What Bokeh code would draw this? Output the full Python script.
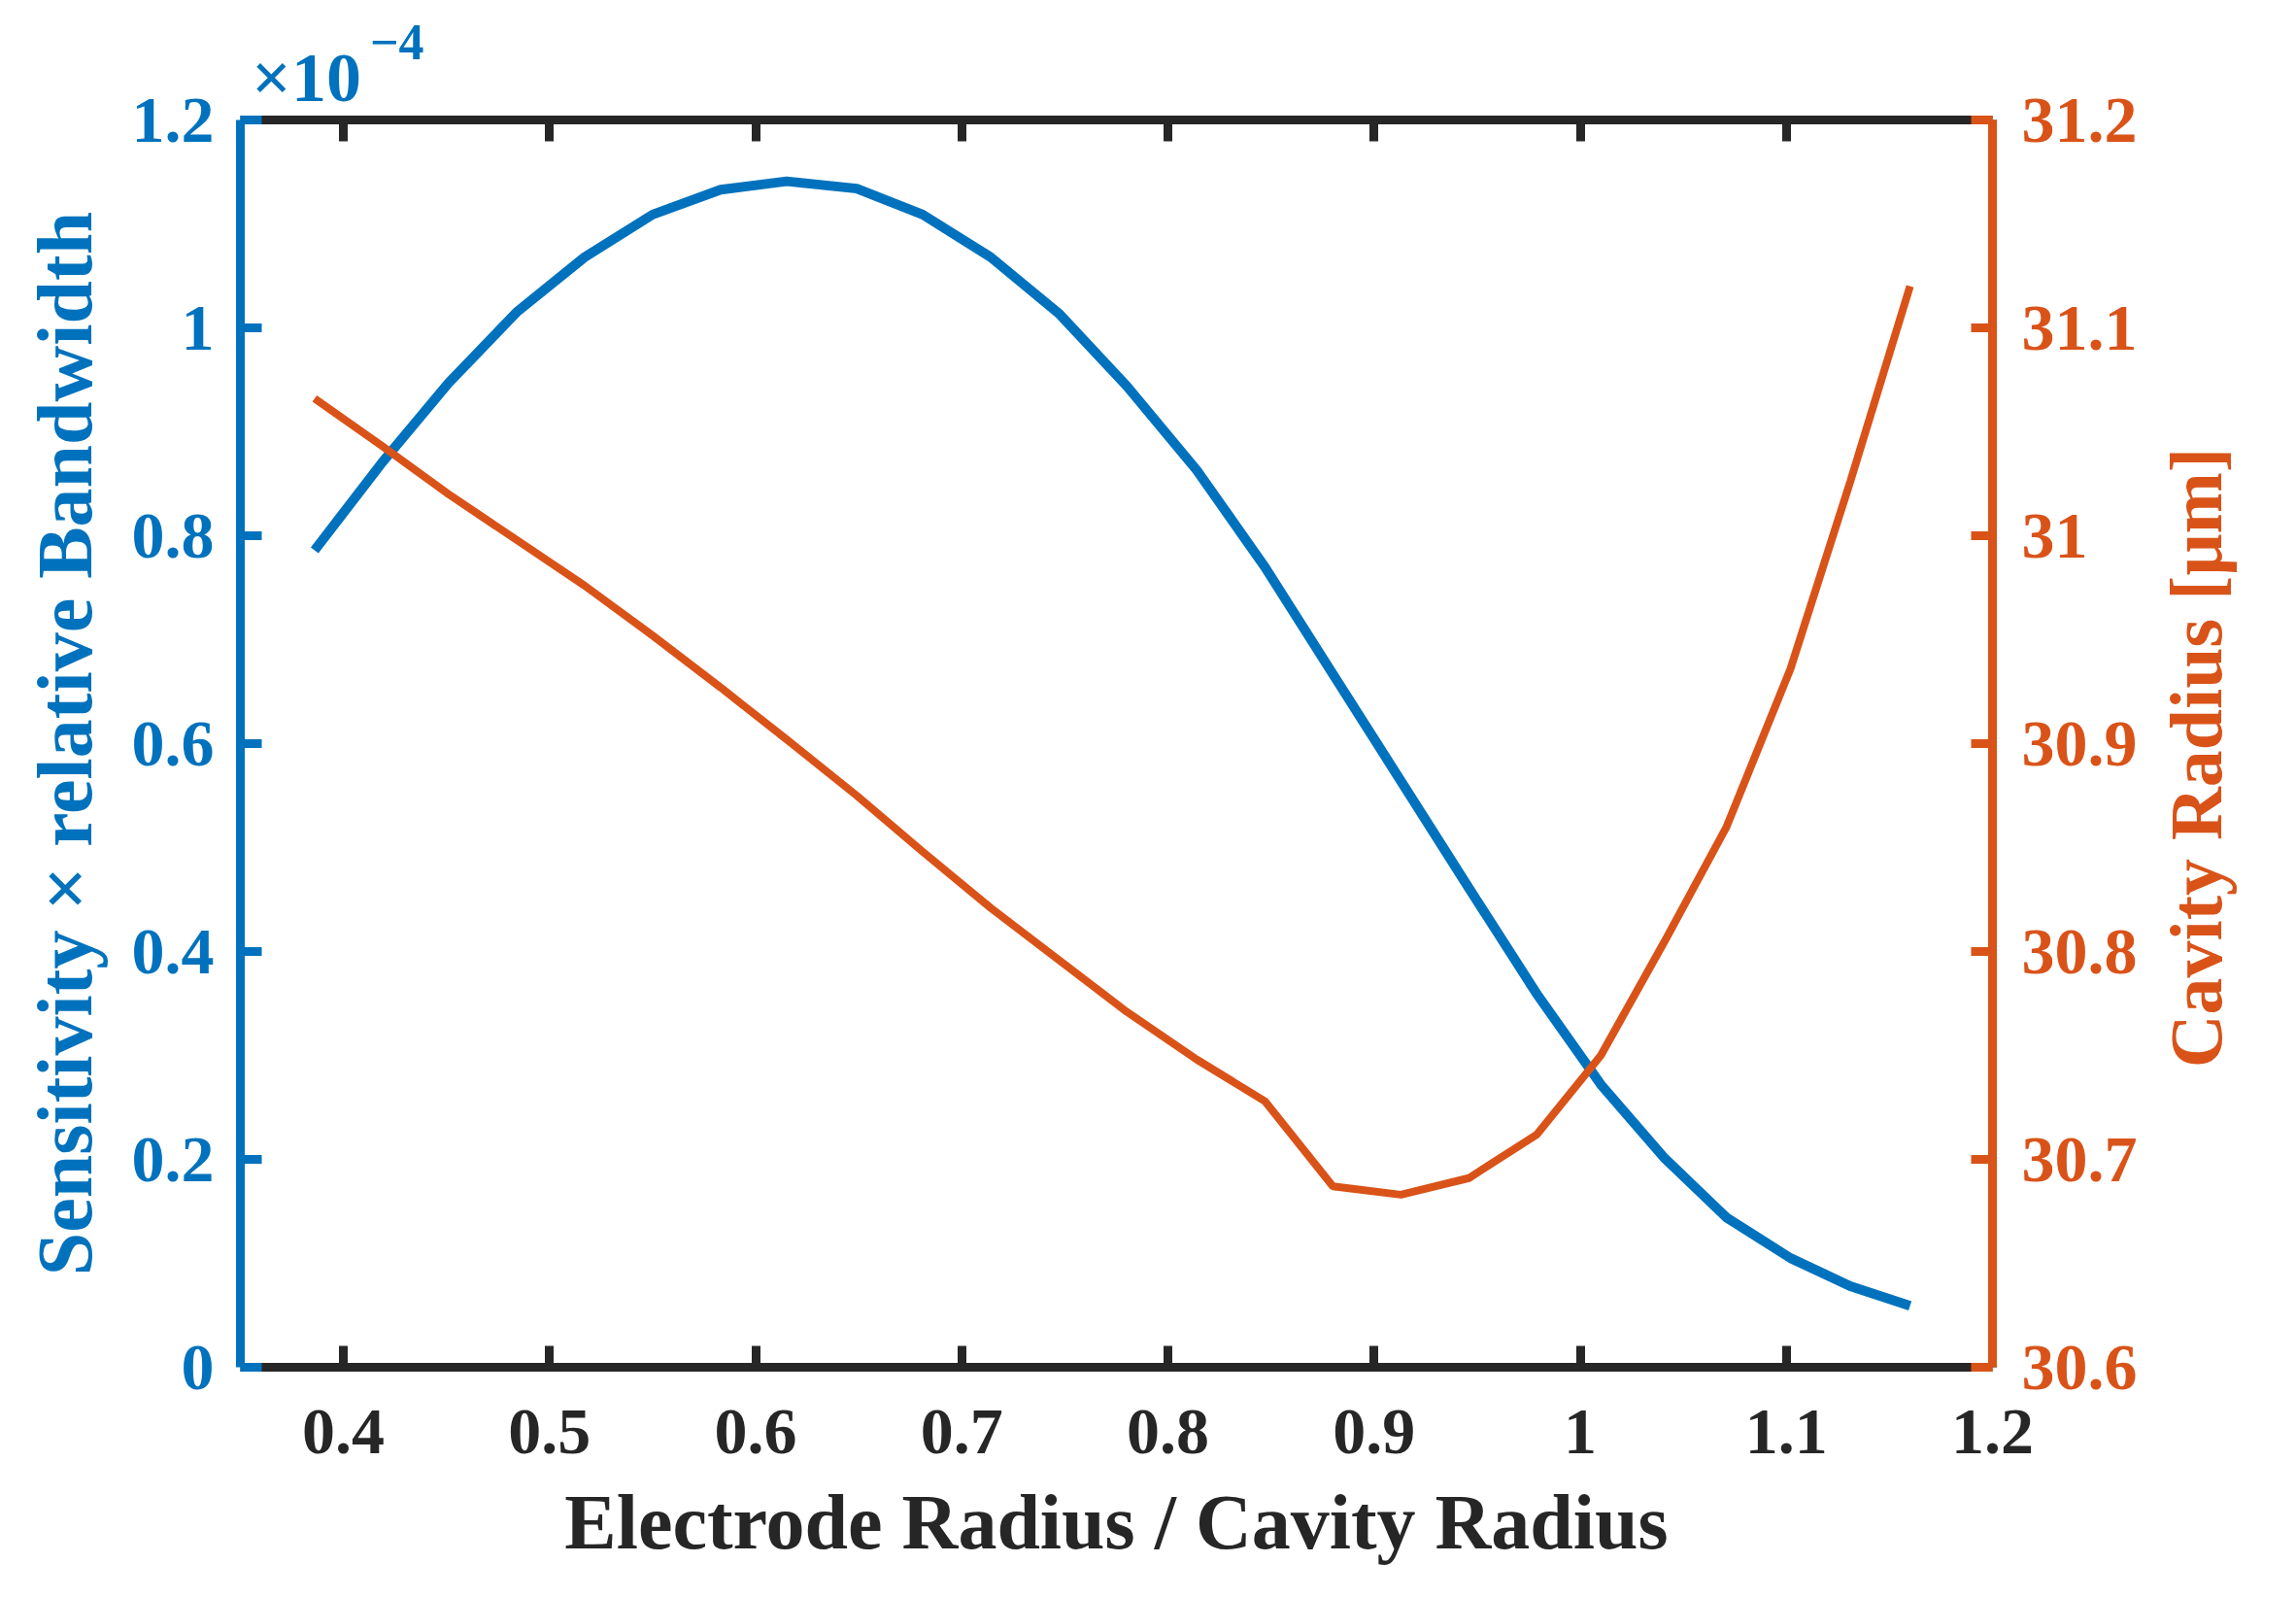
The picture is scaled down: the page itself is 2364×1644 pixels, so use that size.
import math
from bokeh.plotting import figure
from bokeh.models import (Range1d, LinearAxis, FixedTicker, CustomJSTickFormatter,
                          CustomLabelingPolicy)
from bokeh.embed import file_html
from bokeh.resources import INLINE

# ---- data ----
ratio = [0.386, 0.419, 0.451, 0.484, 0.517, 0.550, 0.583, 0.615, 0.649, 0.681,
         0.714, 0.747, 0.780, 0.814, 0.847, 0.880, 0.913, 0.946, 0.979, 1.010,
         1.041, 1.071, 1.102, 1.131, 1.160]
sens_bw = [0.786, 0.871, 0.947, 1.015, 1.068, 1.109, 1.133, 1.141, 1.134, 1.109,
           1.068, 1.014, 0.944, 0.863, 0.770, 0.667, 0.564, 0.461, 0.359, 0.272,
           0.201, 0.144, 0.105, 0.078, 0.059]
cavity_radius = [31.066, 31.043, 31.020, 30.998, 30.976, 30.952, 30.927, 30.902, 30.875, 30.848,
                 30.821, 30.796, 30.771, 30.748, 30.728, 30.687, 30.683, 30.691, 30.712, 30.750,
                 30.805, 30.860, 30.936, 31.026, 31.120]
x_ticks = [0.4, 0.5, 0.6, 0.7, 0.8, 0.9, 1.0, 1.1, 1.2]
left_ticks = [0, 0.2, 0.4, 0.6, 0.8, 1.0, 1.2]
right_ticks = [30.6, 30.7, 30.8, 30.9, 31.0, 31.1, 31.2]

BLUE = "#0072BD"
ORANGE = "#D95319"
DARK = "#262626"
FONT = "Liberation Serif"

p = figure(width=2348, height=1628, output_backend="svg", toolbar_location=None,
           x_range=Range1d(0.35, 1.2), y_range=Range1d(0, 1.2),
           min_border_left=247, min_border_right=294,
           min_border_top=123, min_border_bottom=221)
p.extra_y_ranges = {"radius": Range1d(30.6, 31.2)}
p.grid.visible = False
p.outline_line_color = None
p.background_fill_color = "white"
p.border_fill_color = "white"

fmt_code = "return (Math.round(tick*10)/10).toString();"


def style(ax, color, ticks, label="", label_standoff=30, axis_standoff=10):
    ax.ticker = FixedTicker(ticks=ticks)
    ax.formatter = CustomJSTickFormatter(code=fmt_code)
    ax.axis_line_color = color
    ax.axis_line_width = 9
    ax.major_tick_line_color = color
    ax.major_tick_line_width = 9
    ax.major_tick_in = 22
    ax.major_tick_out = 0
    ax.minor_tick_line_color = None
    ax.major_label_text_color = color
    ax.major_label_text_font = FONT
    ax.major_label_text_font_style = "bold"
    ax.major_label_text_font_size = "68px"
    ax.major_label_standoff = label_standoff
    ax.axis_label = label if label else None
    ax.axis_label_text_color = color
    ax.axis_label_text_font = FONT
    ax.axis_label_text_font_style = "bold"
    ax.axis_label_text_font_size = "80px"
    ax.axis_label_standoff = axis_standoff


xax = p.xaxis[0]
style(xax, DARK, x_ticks, "Electrode Radius / Cavity Radius", label_standoff=44, axis_standoff=24)
yax = p.yaxis[0]
style(yax, BLUE, left_ticks, "Sensitivity \u00d7 relative Bandwidth", label_standoff=27, axis_standoff=22)

# top box edge: ticks only, no labels
top = LinearAxis()
style(top, DARK, x_ticks, label_standoff=0)
top.major_label_text_font_size = "1px"
top.major_label_policy = CustomLabelingPolicy(
    code="const ids = Array.from(indices); for (const i of ids) indices.unset(i); return indices;")
p.add_layout(top, "above")


def text_axis(tick, text, size, standoff, color, range_name=None, orientation=None):
    kw = {"y_range_name": range_name} if range_name else {}
    ax = LinearAxis(ticker=FixedTicker(ticks=[tick]),
                    formatter=CustomJSTickFormatter(code="return '%s';" % text), **kw)
    ax.axis_line_color = None
    ax.major_tick_line_color = None
    ax.minor_tick_line_color = None
    ax.major_tick_in = 0
    ax.major_tick_out = 0
    ax.major_label_text_color = color
    ax.major_label_text_font = FONT
    ax.major_label_text_font_style = "bold"
    ax.major_label_text_font_size = size
    ax.major_label_standoff = standoff
    if orientation is not None:
        ax.major_label_orientation = orientation
    return ax


# axis multiplier "×10^-4" above the left axis
p.add_layout(text_axis(0.382, "\u00d710", "72px", 0, BLUE), "above")
p.add_layout(text_axis(0.426, "\u22124", "52px", -24, BLUE), "above")

right = LinearAxis(y_range_name="radius")
style(right, ORANGE, right_ticks, "", label_standoff=30, axis_standoff=15)
p.add_layout(right, "right")

# right axis title, reading bottom-to-top like the reference
p.add_layout(text_axis(30.744, "Cavity Radius [\u03bcm]", "76px", 58, ORANGE,
                       range_name="radius", orientation=math.pi / 2), "right")

p.line(ratio, sens_bw, line_color=BLUE, line_width=10)
p.line(ratio, cavity_radius, y_range_name="radius", line_color=ORANGE, line_width=8)

open("out.html", "w").write(file_html(p, INLINE))
